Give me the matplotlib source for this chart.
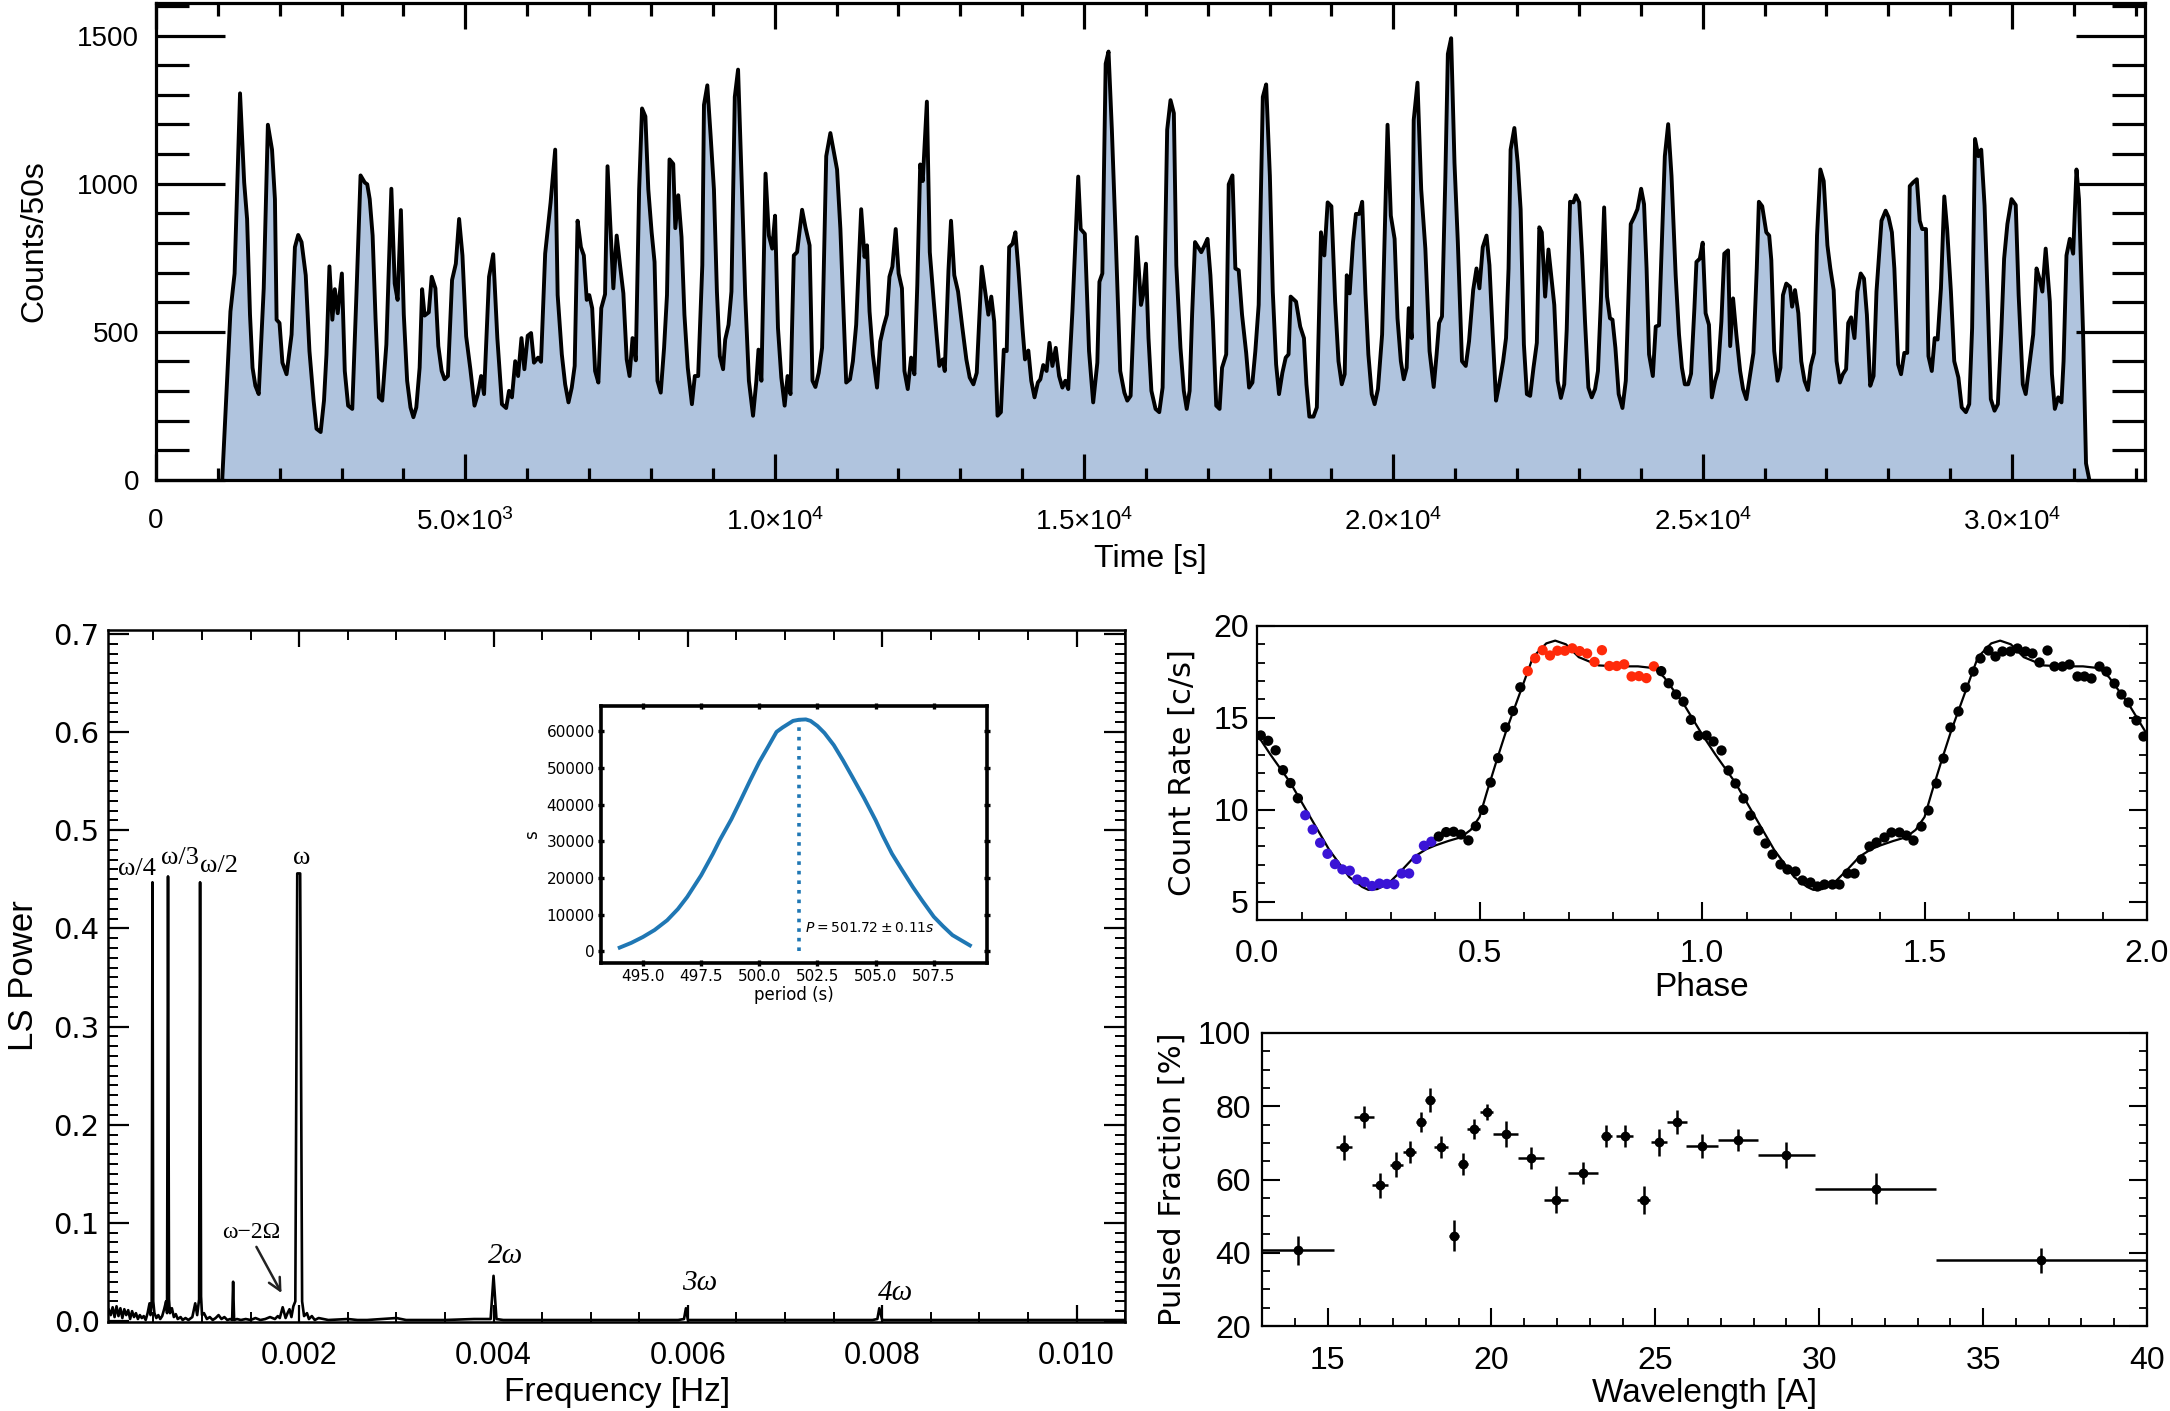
import matplotlib.pyplot as plt
from matplotlib.ticker import MultipleLocator, FixedLocator

plt.rcParams['font.family'] = ['Liberation Sans', 'DejaVu Sans']
plt.rcParams['mathtext.fontset'] = 'custom'
plt.rcParams['mathtext.rm'] = 'Liberation Sans'
plt.rcParams['mathtext.it'] = 'Liberation Sans:italic'

# ---- light curve (counts per 50 s bin) ----
lc_time = [1070, 1203, 1270, 1358, 1425, 1472, 1519, 1560, 1606, 1660,
           1741, 1808, 1875, 1922, 1949, 1996, 2043, 2110, 2191, 2245,
           2298, 2352, 2420, 2480, 2547, 2594, 2661, 2715, 2755, 2803,
           2850, 2890, 2937, 3004, 3051, 3105, 3172, 3239, 3306, 3374,
           3414, 3454, 3501, 3548, 3602, 3656, 3723, 3804, 3858, 3905,
           3958, 4005, 4059, 4113, 4160, 4207, 4261, 4301, 4341, 4409,
           4456, 4516, 4563, 4617, 4664, 4718, 4785, 4846, 4899, 4953,
           5013, 5081, 5148, 5202, 5255, 5302, 5383, 5450, 5517, 5591,
           5659, 5706, 5753, 5806, 5853, 5907, 5954, 6008, 6062, 6109,
           6176, 6223, 6290, 6378, 6452, 6492, 6559, 6613, 6667, 6720,
           6767, 6814, 6868, 6915, 6962, 7003, 7050, 7097, 7150, 7197,
           7258, 7298, 7352, 7392, 7446, 7500, 7554, 7608, 7654, 7702,
           7755, 7809, 7856, 7910, 7957, 8011, 8058, 8105, 8158, 8212,
           8259, 8300, 8360, 8394, 8441, 8494, 8541, 8595, 8662, 8709,
           8763, 8830, 8857, 8911, 8965, 9018, 9066, 9113, 9166, 9200,
           9254, 9301, 9355, 9408, 9469, 9523, 9583, 9650, 9704, 9738,
           9785, 9852, 9906, 9960, 10006, 10053, 10107, 10161, 10208, 10255,
           10309, 10362, 10443, 10497, 10564, 10611, 10658, 10712, 10766, 10833,
           10900, 11008, 11062, 11116, 11156, 11217, 11264, 11317, 11398, 11452,
           11492, 11533, 11586, 11654, 11707, 11761, 11815, 11855, 11902, 11956,
           12003, 12057, 12097, 12151, 12205, 12258, 12305, 12352, 12393, 12460,
           12507, 12567, 12621, 12661, 12715, 12749, 12809, 12850, 12903, 12964,
           13031, 13098, 13152, 13212, 13266, 13347, 13454, 13501, 13548, 13602,
           13656, 13703, 13750, 13790, 13844, 13891, 13938, 14005, 14046, 14100,
           14147, 14200, 14254, 14294, 14341, 14395, 14442, 14489, 14543, 14597,
           14650, 14698, 14745, 14812, 14906, 14946, 15013, 15081, 15148, 15215,
           15249, 15296, 15350, 15396, 15450, 15511, 15585, 15652, 15699, 15753,
           15853, 15921, 15954, 16001, 16042, 16089, 16156, 16216, 16270, 16344,
           16398, 16452, 16492, 16559, 16613, 16660, 16707, 16747, 16794, 16895,
           16949, 16996, 17043, 17083, 17137, 17191, 17231, 17298, 17339, 17399,
           17446, 17500, 17554, 17621, 17668, 17722, 17769, 17823, 17890, 17944,
           18004, 18051, 18105, 18152, 18206, 18260, 18306, 18340, 18427, 18494,
           18555, 18595, 18642, 18709, 18763, 18830, 18884, 18938, 18998, 19059,
           19113, 19166, 19213, 19247, 19294, 19348, 19395, 19449, 19496, 19549,
           19596, 19650, 19697, 19751, 19818, 19906, 19959, 20020, 20067, 20121,
           20168, 20215, 20249, 20296, 20329, 20390, 20450, 20517, 20585, 20652,
           20699, 20739, 20786, 20840, 20881, 20934, 20988, 21042, 21109, 21170,
           21223, 21290, 21344, 21391, 21445, 21506, 21553, 21606, 21660, 21707,
           21774, 21821, 21862, 21895, 21956, 22010, 22057, 22110, 22158, 22211,
           22265, 22319, 22359, 22399, 22453, 22507, 22561, 22601, 22655, 22708,
           22762, 22802, 22856, 22910, 22950, 23004, 23051, 23098, 23152, 23206,
           23260, 23307, 23354, 23407, 23454, 23501, 23542, 23589, 23642, 23703,
           23757, 23797, 23837, 23891, 23945, 24005, 24052, 24093, 24133, 24194,
           24241, 24294, 24388, 24442, 24496, 24563, 24617, 24664, 24711, 24765,
           24812, 24866, 24899, 24953, 25000, 25047, 25101, 25148, 25202, 25248,
           25302, 25349, 25410, 25444, 25491, 25544, 25605, 25652, 25706, 25760,
           25820, 25874, 25908, 25962, 26028, 26075, 26109, 26156, 26210, 26257,
           26297, 26351, 26411, 26445, 26492, 26546, 26593, 26646, 26700, 26747,
           26801, 26848, 26902, 26956, 27016, 27063, 27117, 27164, 27218, 27265,
           27318, 27352, 27399, 27453, 27500, 27554, 27607, 27654, 27708, 27762,
           27809, 27890, 27957, 28004, 28058, 28098, 28159, 28206, 28259, 28306,
           28347, 28400, 28461, 28508, 28548, 28609, 28649, 28703, 28750, 28797,
           28851, 28905, 28951, 29012, 29066, 29133, 29187, 29254, 29308, 29355,
           29402, 29455, 29502, 29556, 29603, 29657, 29717, 29771, 29825, 29872,
           29925, 29992, 30060, 30107, 30174, 30221, 30275, 30342, 30396, 30443,
           30490, 30544, 30611, 30645, 30692, 30746, 30799, 30833, 30880, 30934,
           30988, 31042, 31082, 31149, 31196, 31250]
lc_counts = [0, 569, 697, 1305, 1004, 881, 558, 379, 318, 290,
             647, 1199, 1115, 948, 541, 530, 396, 357, 491, 786,
             827, 803, 691, 435, 268, 173, 162, 268, 424, 721,
             541, 644, 563, 697, 368, 251, 240, 624, 1028, 1004,
             998, 948, 825, 546, 279, 268, 457, 983, 663, 608,
             911, 558, 335, 245, 212, 245, 379, 644, 555, 566,
             686, 647, 452, 368, 340, 351, 675, 730, 881, 758,
             485, 374, 251, 290, 351, 290, 686, 762, 479, 256,
             243, 301, 279, 401, 351, 479, 374, 487, 496, 396,
             413, 399, 764, 937, 1115, 624, 424, 323, 262, 312,
             385, 875, 786, 758, 608, 624, 580, 368, 329, 580,
             627, 1059, 825, 647, 825, 725, 630, 407, 351, 479,
             404, 981, 1254, 1227, 981, 836, 736, 335, 295, 446,
             624, 1082, 1067, 850, 961, 820, 558, 379, 256, 351,
             351, 725, 1266, 1332, 1160, 981, 636, 418, 374, 474,
             524, 636, 1293, 1385, 992, 624, 335, 217, 335, 440,
             335, 1034, 825, 781, 892, 513, 346, 251, 351, 290,
             758, 769, 912, 853, 792, 335, 314, 362, 446, 1093,
             1171, 1048, 847, 546, 329, 340, 401, 524, 914, 753,
             792, 569, 424, 312, 468, 518, 558, 686, 720, 847,
             697, 647, 368, 307, 413, 357, 658, 1065, 1009, 1277,
             769, 613, 479, 385, 407, 368, 708, 875, 691, 636,
             518, 407, 346, 323, 362, 720, 558, 619, 535, 217,
             229, 440, 435, 786, 797, 836, 714, 513, 407, 437,
             335, 279, 329, 340, 388, 368, 463, 385, 446, 351,
             312, 335, 307, 569, 1024, 847, 831, 435, 262, 396,
             669, 697, 1405, 1446, 1182, 825, 368, 295, 268, 284,
             820, 591, 624, 730, 479, 301, 240, 229, 312, 1182,
             1282, 1238, 725, 446, 301, 240, 301, 558, 803, 769,
             792, 814, 691, 535, 251, 240, 379, 424, 998, 1028,
             714, 708, 558, 429, 312, 329, 435, 591, 1293, 1335,
             1026, 636, 390, 290, 362, 413, 424, 619, 602, 518,
             479, 323, 214, 214, 245, 836, 758, 937, 924, 602,
             401, 323, 357, 691, 630, 803, 898, 898, 939, 630,
             424, 290, 256, 307, 491, 1199, 892, 814, 546, 401,
             340, 379, 580, 479, 1215, 1341, 981, 781, 435, 314,
             424, 530, 552, 1020, 1438, 1491, 1070, 803, 401, 385,
             468, 641, 714, 647, 786, 825, 725, 491, 268, 318,
             401, 479, 714, 1115, 1188, 1070, 914, 457, 290, 284,
             379, 463, 853, 836, 619, 778, 669, 591, 335, 277,
             323, 507, 939, 937, 961, 937, 758, 535, 312, 279,
             307, 368, 602, 920, 619, 546, 541, 446, 290, 243,
             335, 602, 864, 887, 914, 983, 931, 714, 424, 351,
             518, 522, 1093, 1201, 1026, 691, 491, 379, 323, 323,
             359, 580, 736, 747, 801, 563, 524, 279, 335, 368,
             535, 764, 775, 452, 613, 491, 368, 307, 273, 346,
             429, 714, 939, 924, 836, 825, 742, 435, 335, 379,
             624, 663, 652, 585, 641, 563, 401, 335, 304, 385,
             429, 825, 1048, 1009, 792, 714, 641, 401, 329, 357,
             374, 530, 549, 479, 636, 697, 680, 558, 318, 351,
             636, 875, 909, 887, 836, 714, 390, 357, 429, 429,
             992, 1004, 1015, 875, 847, 847, 418, 368, 479, 474,
             647, 957, 847, 636, 401, 346, 245, 229, 256, 513,
             1151, 1093, 1115, 926, 636, 273, 234, 256, 491, 747,
             864, 948, 928, 624, 323, 290, 379, 491, 714, 680,
             636, 781, 602, 357, 240, 279, 262, 401, 758, 814,
             764, 1048, 948, 491, 56, 0]

top_xticks = [0, 5000, 10000, 15000, 20000, 25000, 30000]
top_xlabels = ['0', '5.0×10$^{3}$', '1.0×10$^{4}$', '1.5×10$^{4}$',
               '2.0×10$^{4}$', '2.5×10$^{4}$', '3.0×10$^{4}$']

# ---- Lomb-Scargle periodogram ----
ls_freq = [0.000033, 0.00004, 0.00006, 0.00008, 0.0001, 0.00012, 0.00014, 0.00016,
           0.00018, 0.0002, 0.00022, 0.00024, 0.00026, 0.00028, 0.0003, 0.00032,
           0.00034, 0.00036, 0.00038, 0.0004, 0.00042, 0.00044, 0.00046, 0.00047,
           0.000482, 0.00049, 0.000498, 0.00051, 0.00053, 0.00055, 0.00057, 0.00059,
           0.00061, 0.00063, 0.00064, 0.00065, 0.00066, 0.00067, 0.00069, 0.00071,
           0.00073, 0.00075, 0.00078, 0.0008, 0.00083, 0.00086, 0.0009, 0.00093,
           0.00095, 0.00097, 0.00098, 0.00099, 0.001, 0.00102, 0.00105, 0.00108,
           0.00111, 0.00114, 0.00117, 0.0012, 0.00123, 0.00126, 0.00129, 0.00131,
           0.00132, 0.00133, 0.00136, 0.0014, 0.00145, 0.0015, 0.00155, 0.0016,
           0.00165, 0.0017, 0.00175, 0.00178, 0.0018, 0.00183, 0.00186, 0.00188,
           0.0019, 0.00192, 0.00194, 0.00196, 0.00198, 0.00201, 0.00203, 0.00205,
           0.00208, 0.0021, 0.00213, 0.00216, 0.0022, 0.0023, 0.0025, 0.0026,
           0.0027, 0.003, 0.0031, 0.0035, 0.0038, 0.00397, 0.004, 0.00403,
           0.0041, 0.005, 0.0059, 0.00596, 0.00598, 0.006, 0.007, 0.0079,
           0.00795, 0.00797, 0.008, 0.009, 0.0105]
ls_power = [0.010, 0.012, 0.006, 0.014, 0.004, 0.015, 0.005, 0.013,
            0.003, 0.012, 0.006, 0.011, 0.002, 0.010, 0.004, 0.008,
            0.002, 0.006, 0.003, 0.005, 0.001, 0.008, 0.018, 0.006,
            0.020, 0.447, 0.020, 0.008, 0.003, 0.006, 0.002, 0.005,
            0.012, 0.020, 0.008, 0.453, 0.022, 0.008, 0.013, 0.004,
            0.007, 0.002, 0.004, 0.001, 0.003, 0.001, 0.004, 0.018,
            0.006, 0.022, 0.447, 0.025, 0.006, 0.008, 0.002, 0.004,
            0.001, 0.003, 0.006, 0.002, 0.004, 0.001, 0.002, 0.001,
            0.040, 0.001, 0.002, 0.001, 0.002, 0.001, 0.003, 0.001,
            0.002, 0.004, 0.002, 0.005, 0.003, 0.014, 0.003, 0.008,
            0.012, 0.004, 0.015, 0.020, 0.456, 0.456, 0.020, 0.005,
            0.008, 0.002, 0.005, 0.001, 0.003, 0.001, 0.002, 0.001,
            0.001, 0.003, 0.001, 0.001, 0.002, 0.002, 0.046, 0.002,
            0.001, 0.001, 0.001, 0.002, 0.013, 0.001, 0.001, 0.001,
            0.002, 0.013, 0.001, 0.001, 0.001]

ls_xticks = [0.002, 0.004, 0.006, 0.008, 0.010]
ls_xlabels = ['0.002', '0.004', '0.006', '0.008', '0.010']

# ---- inset: period search ----
inset_period = [494.0, 494.5, 495.0, 495.5, 496.04, 496.5, 496.9, 497.5, 498.0, 498.3,
                498.8, 499.2, 499.6, 500.0, 500.4, 500.74, 501.0, 501.45, 501.7, 502.0,
                502.2, 502.5, 502.8, 503.2, 503.6, 504.0, 504.5, 505.0, 505.3, 505.7,
                506.1, 506.6, 507.0, 507.5, 507.9, 508.3, 508.7, 509.05]
inset_power = [1000, 2300, 3900, 5800, 8450, 11500, 14800, 20700, 26500, 30300,
               36000, 41200, 46500, 51600, 56000, 59800, 61000, 62800, 63100, 63200,
               62800, 61400, 59500, 56200, 52000, 47500, 41800, 35700, 31600, 26600,
               22500, 17500, 13800, 9400, 6800, 4400, 2900, 1600]
best_period = 501.72
best_power = 63200

# ---- folded light curve ----
phase = [0.0083, 0.025, 0.0417, 0.0583, 0.075, 0.0917, 0.1083, 0.125, 0.1417, 0.1583,
         0.175, 0.1917, 0.2083, 0.225, 0.2417, 0.2583, 0.275, 0.2917, 0.3083, 0.325,
         0.3417, 0.3583, 0.375, 0.3917, 0.4083, 0.425, 0.4417, 0.4583, 0.475, 0.4917,
         0.5083, 0.525, 0.5417, 0.5583, 0.575, 0.5917, 0.6083, 0.625, 0.6417, 0.6583,
         0.675, 0.6917, 0.7083, 0.725, 0.7417, 0.7583, 0.775, 0.7917, 0.8083, 0.825,
         0.8417, 0.8583, 0.875, 0.8917, 0.9083, 0.925, 0.9417, 0.9583, 0.975, 0.9917]
rate = [14.04, 13.75, 13.23, 12.15, 11.45, 10.62, 9.70, 8.92, 8.20, 7.60,
        7.04, 6.75, 6.68, 6.20, 6.07, 5.85, 5.98, 5.96, 5.94, 6.53,
        6.53, 7.32, 8.04, 8.26, 8.54, 8.78, 8.80, 8.65, 8.33, 9.10,
        9.99, 11.48, 12.81, 14.48, 15.37, 16.66, 17.54, 18.24, 18.68, 18.39,
        18.65, 18.65, 18.78, 18.63, 18.50, 18.04, 18.68, 17.82, 17.82, 17.91,
        17.25, 17.27, 17.16, 17.80, 17.54, 16.88, 16.27, 15.88, 14.89, 14.02]
model_phase = [0.0, 0.03, 0.074, 0.118, 0.162, 0.207, 0.236, 0.25, 0.27, 0.295,
               0.325, 0.354, 0.38, 0.4, 0.43, 0.458, 0.48, 0.5, 0.517, 0.54,
               0.56, 0.59, 0.62, 0.65, 0.67, 0.694, 0.723, 0.768, 0.81, 0.856,
               0.893, 0.915, 0.96, 1.0]
model_rate = [14.1, 13.0, 11.5, 9.66, 7.82, 6.34, 5.8, 5.64, 5.68, 5.98,
              6.7, 7.45, 7.85, 8.05, 8.3, 8.5, 8.9, 9.6, 11.0, 12.8,
              14.3, 16.3, 18.3, 19.05, 19.2, 19.0, 18.3, 17.85, 17.8, 17.8,
              17.7, 17.2, 15.7, 14.1]

# ---- pulsed fraction vs wavelength ----
pf_wl = [14.1, 15.5, 16.1, 16.6, 17.1, 17.5, 17.86, 18.12, 18.46, 18.86,
         19.14, 19.46, 19.86, 20.44, 21.2, 21.96, 22.78, 23.5, 24.06, 24.64,
         25.12, 25.66, 26.42, 27.52, 29.0, 31.72, 36.78]
pf_wl_err = [1.1, 0.25, 0.3, 0.25, 0.2, 0.2, 0.15, 0.15, 0.2, 0.15,
             0.15, 0.2, 0.2, 0.38, 0.4, 0.36, 0.46, 0.17, 0.25, 0.2,
             0.25, 0.32, 0.48, 0.6, 0.88, 1.85, 3.22]
pf_val = [40.7, 68.8, 77.1, 58.4, 64.1, 67.4, 75.7, 81.6, 69.0, 44.7,
          64.2, 73.8, 78.5, 72.5, 65.8, 54.5, 61.7, 72.0, 72.0, 54.5,
          70.2, 75.7, 69.1, 70.8, 66.7, 57.5, 38.0]
pf_err = [3.9, 3.4, 3.0, 3.5, 3.4, 3.0, 2.8, 3.3, 3.0, 4.3,
          3.0, 2.8, 2.2, 3.5, 3.0, 3.7, 3.0, 3.0, 3.0, 3.8,
          3.7, 3.3, 3.3, 3.0, 3.5, 4.2, 3.4]

fig = plt.figure(figsize=(21.7, 14.11), dpi=100)

# top: light curve
ax1 = fig.add_axes([0.0719, 0.6598, 0.9166, 0.3381])
ax1.fill_between(lc_time, lc_counts, 0, color='#b0c4de', lw=0)
ax1.plot(lc_time, lc_counts, color='black', lw=2.8)
ax1.set_xlim(0, 32150)
ax1.set_ylim(0, 1610)
ax1.set_yticks([0, 500, 1000, 1500])
ax1.yaxis.set_minor_locator(MultipleLocator(100))
ax1.set_xticks(top_xticks)
ax1.set_xticklabels(top_xlabels)
ax1.xaxis.set_minor_locator(MultipleLocator(1000))
ax1.tick_params(axis='y', which='major', direction='in', length=50, width=2.3,
                left=True, right=True, labelsize=20, pad=12)
ax1.tick_params(axis='y', which='minor', direction='in', length=24, width=2.3,
                left=True, right=True)
ax1.tick_params(axis='x', which='major', direction='in', length=19, width=2.3,
                top=True, bottom=True, labelsize=20, pad=20)
ax1.tick_params(axis='x', which='minor', direction='in', length=9, width=2.3,
                top=True, bottom=True)
for s in ax1.spines.values():
    s.set_linewidth(2.3)
ax1.set_ylabel('Counts/50s', fontsize=23, labelpad=20)
ax1.set_xlabel('Time [s]', fontsize=23, labelpad=6)

# bottom left: LS periodogram
ax2 = fig.add_axes([0.0498, 0.0631, 0.4687, 0.4904])
ax2.plot(ls_freq, ls_power, color='black', lw=1.9)
ax2.set_xlim(0.000033, 0.0105)
ax2.set_ylim(-0.001, 0.704)
ax2.yaxis.set_major_locator(MultipleLocator(0.1))
ax2.yaxis.set_minor_locator(MultipleLocator(0.01))
ax2.yaxis.set_major_formatter(plt.FormatStrFormatter('%.1f'))
ax2.xaxis.set_major_locator(FixedLocator(ls_xticks))
ax2.set_xticklabels(ls_xlabels)
ax2.xaxis.set_minor_locator(MultipleLocator(0.0005))
ax2.tick_params(axis='y', which='major', direction='in', length=15, width=1.6,
                left=True, right=True, labelsize=21, pad=6, labelfontfamily='DejaVu Sans')
ax2.tick_params(axis='y', which='minor', direction='in', length=7, width=1.4,
                left=True, right=True)
ax2.tick_params(axis='x', which='major', direction='in', length=12, width=1.6,
                top=True, bottom=True, labelsize=22, pad=14)
ax2.tick_params(axis='x', which='minor', direction='in', length=7, width=1.4,
                top=True, bottom=True)
for s in ax2.spines.values():
    s.set_linewidth(1.8)
ax2.set_ylabel('LS Power', fontsize=25, labelpad=10)
ax2.set_xlabel('Frequency [Hz]', fontsize=24, labelpad=4)

lbl = dict(family=['Liberation Serif', 'DejaVu Serif'], ha='center', va='center')
ax2.text(0.00033, 0.460, 'ω/4', fontsize=19, **lbl)
ax2.text(0.00077, 0.472, 'ω/3', fontsize=19, **lbl)
ax2.text(0.00117, 0.464, 'ω/2', fontsize=19, **lbl)
ax2.text(0.00203, 0.472, 'ω', fontsize=19, **lbl)
ax2.text(0.00151, 0.090, 'ω−2Ω', fontsize=17, **lbl)
ax2.text(0.00412, 0.066, '2ω', fontsize=21, style='italic', **lbl)
ax2.text(0.00612, 0.039, '3ω', fontsize=21, style='italic', **lbl)
ax2.text(0.00814, 0.029, '4ω', fontsize=21, style='italic', **lbl)
ax2.annotate('', xy=(0.001832, 0.026), xytext=(0.001546, 0.078),
             arrowprops=dict(arrowstyle='->', color='#222222', lw=1.8,
                             mutation_scale=22))

# inset
axi = fig.add_axes([0.277, 0.3175, 0.178, 0.182])
axi.plot(inset_period, inset_power, color='#1f77b4', lw=2.8)
axi.plot([best_period, best_period], [0, best_power], color='#1f77b4', lw=2.6, ls=':')
axi.text(501.98, 6400, r'$P = 501.72 \pm 0.11 s$', fontsize=10, va='center',
         math_fontfamily='dejavusans')
axi.set_xlim(493.2, 509.8)
axi.set_ylim(-3200, 66800)
axi.set_xticks([495, 497.5, 500, 502.5, 505, 507.5])
axi.set_xticklabels(['495.0', '497.5', '500.0', '502.5', '505.0', '507.5'])
axi.set_yticks([0, 10000, 20000, 30000, 40000, 50000, 60000])
axi.tick_params(direction='inout', length=5, width=2.4, top=True, right=True,
                labelsize=11, pad=2, labelfontfamily='DejaVu Sans')
for s in axi.spines.values():
    s.set_linewidth(2.6)
axi.set_xlabel('period (s)', fontsize=12, family='DejaVu Sans', labelpad=1)
axi.set_ylabel('s', fontsize=12, family='DejaVu Sans', labelpad=4)

# right top: folded light curve
ax3 = fig.add_axes([0.5793, 0.348, 0.4101, 0.2084])
ax3.plot(model_phase, model_rate, color='black', lw=1.6)
ax3.plot([p + 1 for p in model_phase], model_rate, color='black', lw=1.6)
pt_colors = ['black'] * 6 + ['#3a14d6'] * 18 + ['black'] * 12 + ['#ff2a0a'] * 18 + ['black'] * 6
ax3.scatter(phase, rate, c=pt_colors, s=55, zorder=3, lw=0)
ax3.scatter([p + 1 for p in phase], rate, c='black', s=55, zorder=3, lw=0)
ax3.set_xlim(0, 2)
ax3.set_ylim(4, 20)
ax3.set_yticks([5, 10, 15, 20])
ax3.yaxis.set_minor_locator(MultipleLocator(1))
ax3.set_xticks([0, 0.5, 1.0, 1.5, 2.0])
ax3.set_xticklabels(['0.0', '0.5', '1.0', '1.5', '2.0'])
ax3.xaxis.set_minor_locator(MultipleLocator(0.1))
ax3.tick_params(axis='both', which='major', direction='in', length=13, width=1.5,
                left=True, right=True, bottom=True, top=False, labelsize=23, pad=6)
ax3.tick_params(axis='x', which='major', pad=14)
ax3.tick_params(axis='both', which='minor', direction='in', length=6, width=1.3,
                left=True, right=True, bottom=True, top=False)
for s in ax3.spines.values():
    s.set_linewidth(1.6)
ax3.set_ylabel('Count Rate [c/s]', fontsize=22, family='DejaVu Sans', labelpad=12)
ax3.set_xlabel('Phase', fontsize=24, labelpad=2)

# right bottom: pulsed fraction
ax4 = fig.add_axes([0.5816, 0.0602, 0.4078, 0.2077])
ax4.errorbar(pf_wl, pf_val, xerr=pf_wl_err, yerr=pf_err, fmt='o', color='black',
             ms=6, elinewidth=1.8, capsize=0)
ax4.set_xlim(13, 40)
ax4.set_ylim(20, 100)
ax4.set_yticks([20, 40, 60, 80, 100])
ax4.yaxis.set_minor_locator(MultipleLocator(5))
ax4.set_xticks([15, 20, 25, 30, 35, 40])
ax4.xaxis.set_minor_locator(MultipleLocator(1))
ax4.tick_params(axis='both', which='major', direction='in', length=13, width=1.5,
                left=True, right=True, bottom=True, top=False, labelsize=23, pad=8)
ax4.tick_params(axis='x', which='major', pad=14)
ax4.tick_params(axis='both', which='minor', direction='in', length=6, width=1.3,
                left=True, right=True, bottom=True, top=False)
for s in ax4.spines.values():
    s.set_linewidth(1.6)
ax4.set_ylabel('Pulsed Fraction [%]', fontsize=22, family='DejaVu Sans', labelpad=8)
ax4.set_xlabel('Wavelength [A]', fontsize=24, labelpad=2)

fig.savefig('out.png', dpi=100)
